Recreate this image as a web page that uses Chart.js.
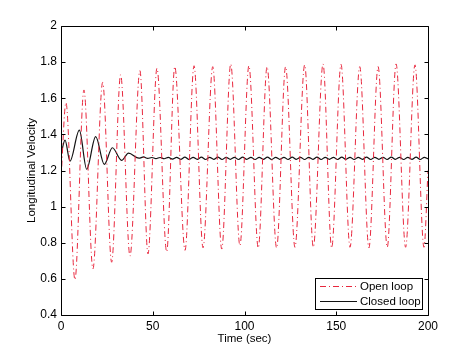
<!DOCTYPE html>
<html>
<head>
<meta charset="utf-8">
<script src="https://cdn.jsdelivr.net/npm/chart.js@4"></script>
<style>
html,body{margin:0;padding:0;background:#fff;}
canvas{display:block;}
</style>
</head>
<body>
<canvas id="c" width="474" height="355"></canvas>
<script>
// ---- data ----
const xTitle = 'Time (sec)';
const yTitle = 'Longitudinal Velocity';
const xTicks = [0, 50, 100, 150, 200];
const xTickLabels = ['0', '50', '100', '150', '200'];
const yTicks = [0.4, 0.6, 0.8, 1.0, 1.2, 1.4, 1.6, 1.8, 2.0];
const yTickLabels = ['0.4', '0.6', '0.8', '1', '1.2', '1.4', '1.6', '1.8', '2'];
const seriesNames = ['Open loop', 'Closed loop'];

// Open loop: extrema (peaks / troughs)
const openT = [0, 2.7, 7.6, 12.5, 17.4, 22.7, 27.6, 32.5, 37.6, 43, 47.4, 52.3, 57.6, 62, 67.6, 72.5, 77.4, 82.7, 87.6, 92.5, 97.5,
  102.4, 107.5, 112.3, 117.5, 122.4, 127.5, 132.8, 137.5, 142.8, 147.5, 152.6, 157.5, 162.8, 167.8, 172.8, 177.8, 182.6, 187.8, 192.9, 197.8, 200];
const openV = [1.15, 1.576, 0.595, 1.646, 0.655, 1.688, 0.692, 1.73, 0.726, 1.753, 0.738, 1.766, 0.75, 1.775, 0.758, 1.78, 0.772, 1.775, 0.765, 1.79, 0.784,
  1.78, 0.771, 1.775, 0.771, 1.775, 0.775, 1.785, 0.775, 1.79, 0.771, 1.788, 0.775, 1.775, 0.771, 1.775, 0.775, 1.79, 0.775, 1.785, 0.775, 1.2];

// Closed loop: extrema
const closedT = [0, 2.2, 4.9, 10, 14, 18.9, 23.6, 28, 33, 36.8, 42.5,
  45, 47.25, 49.5, 51.75, 54, 56.25, 58.5, 60.75, 63, 65.25, 67.5, 69.75, 72, 74.25, 76.5, 78.75, 81, 83.25, 85.5, 87.75,
  90, 92.25, 94.5, 96.75, 99, 101.25, 103.5, 105.75, 108, 110.25, 112.5, 114.75, 117, 119.25, 121.5, 123.75, 126, 128.25,
  130.5, 132.75, 135, 137.25, 139.5, 141.75, 144, 146.25, 148.5, 150.75, 153, 155.25, 157.5, 159.75, 162, 164.25, 166.5,
  168.75, 171, 173.25, 175.5, 177.75, 180, 182.25, 184.5, 186.75, 189, 191.25, 193.5, 195.75, 198, 200];
const closedV = [1.29, 1.368, 1.252, 1.423, 1.207, 1.387, 1.234, 1.326, 1.256, 1.296, 1.268,
  1.275, 1.267, 1.272, 1.266, 1.272, 1.265, 1.273, 1.263, 1.273, 1.262, 1.274, 1.261, 1.273, 1.262, 1.274, 1.261, 1.273, 1.262, 1.274, 1.261,
  1.273, 1.262, 1.273, 1.261, 1.274, 1.262, 1.273, 1.261, 1.273, 1.262, 1.274, 1.261, 1.273, 1.262, 1.273, 1.261, 1.274, 1.262,
  1.273, 1.261, 1.273, 1.262, 1.274, 1.261, 1.273, 1.262, 1.273, 1.261, 1.274, 1.262, 1.273, 1.261, 1.273, 1.262, 1.274,
  1.261, 1.273, 1.262, 1.273, 1.261, 1.274, 1.262, 1.273, 1.261, 1.273, 1.262, 1.274, 1.261, 1.273, 1.265];

// ---- styles ----
const FONT = 'Liberation Sans, Arial, Helvetica, sans-serif';
const RED = 'rgb(232,40,62)';
const RED_DASH = [6, 3, 1, 3];
const BLACK = '#111';

const toPts = (t, v) => t.map((x, i) => ({x: x, y: v[i]}));

const framePlugin = {
  id: 'frameTicks',
  afterDatasetsDraw(chart) {
    const {ctx, chartArea: a, scales} = chart;
    const xs = scales.x, ys = scales.y;
    ctx.save();
    ctx.strokeStyle = '#000';
    ctx.lineWidth = 1;
    const L = Math.round(a.left) + 0.5, R = Math.round(a.right) + 0.5;
    const T = Math.round(a.top) + 0.5, B = Math.round(a.bottom) + 0.5;
    ctx.beginPath();
    ctx.rect(L, T, R - L, B - T);
    const tl = 4;
    xTicks.forEach(v => {
      const p = Math.round(xs.getPixelForValue(v)) + 0.5;
      ctx.moveTo(p, B); ctx.lineTo(p, B - tl);
      ctx.moveTo(p, T); ctx.lineTo(p, T + tl);
    });
    yTicks.forEach(v => {
      const p = Math.round(ys.getPixelForValue(v)) + 0.5;
      ctx.moveTo(L, p); ctx.lineTo(L + tl, p);
      ctx.moveTo(R, p); ctx.lineTo(R - tl, p);
    });
    ctx.stroke();
    ctx.restore();
  },
  afterDraw(chart) {
    const {ctx} = chart;
    // legend box in lower right of the plot area
    const bx = 315.5, by = 278.5, bw = 107, bh = 31;
    ctx.save();
    ctx.fillStyle = '#fff';
    ctx.fillRect(bx, by, bw, bh);
    ctx.strokeStyle = '#000';
    ctx.lineWidth = 1;
    ctx.strokeRect(bx, by, bw, bh);
    const rows = [
      {name: seriesNames[0], color: RED, dash: RED_DASH, w: 1, y: 286.5},
      {name: seriesNames[1], color: BLACK, dash: [], w: 1, y: 301.5}
    ];
    rows.forEach(r => {
      ctx.beginPath();
      ctx.setLineDash(r.dash);
      ctx.strokeStyle = r.color;
      ctx.lineWidth = r.w;
      ctx.moveTo(320, r.y); ctx.lineTo(357, r.y);
      ctx.stroke();
      ctx.setLineDash([]);
      ctx.fillStyle = '#000';
      ctx.font = '11.5px ' + FONT;
      ctx.textBaseline = 'middle';
      ctx.textAlign = 'left';
      ctx.fillText(r.name, 360, r.y + 0.5);
    });
    ctx.restore();
  }
};

new Chart(document.getElementById('c'), {
  type: 'line',
  data: {
    datasets: [
      {
        label: seriesNames[0],
        data: toPts(openT, openV),
        borderColor: RED,
        borderWidth: 1,
        borderDash: RED_DASH,
        pointRadius: 0,
        cubicInterpolationMode: 'monotone',
        fill: false
      },
      {
        label: seriesNames[1],
        data: toPts(closedT, closedV),
        borderColor: BLACK,
        borderWidth: 1.2,
        pointRadius: 0,
        cubicInterpolationMode: 'monotone',
        fill: false
      }
    ]
  },
  options: {
    responsive: false,
    animation: false,
    devicePixelRatio: 1,
    layout: {padding: {left: 0, right: 46, top: 26, bottom: 0}},
    plugins: {legend: {display: false}, tooltip: {enabled: false}},
    scales: {
      x: {
        type: 'linear',
        min: 0, max: 200,
        afterBuildTicks: s => { s.ticks = xTicks.map(v => ({value: v})); },
        afterFit: s => { s.height = 40; },
        grid: {display: false, drawTicks: false},
        border: {display: false},
        ticks: {
          padding: 4,
          color: '#000',
          font: {family: FONT, size: 12},
          maxRotation: 0,
          callback: (v, i) => xTickLabels[i]
        },
        title: {display: true, text: xTitle, color: '#000', font: {family: FONT, size: 11.5}, padding: {top: 0, bottom: 9}}
      },
      y: {
        type: 'linear',
        min: 0.4, max: 2,
        afterBuildTicks: s => { s.ticks = yTicks.map(v => ({value: v})); },
        afterFit: s => { s.width = 61; },
        grid: {display: false, drawTicks: false},
        border: {display: false},
        ticks: {
          padding: 4,
          color: '#000',
          font: {family: FONT, size: 12},
          callback: (v, i) => yTickLabels[i]
        },
        title: {display: true, text: yTitle, color: '#000', font: {family: FONT, size: 11.5}, padding: {top: 25, bottom: 0}}
      }
    }
  },
  plugins: [framePlugin]
});
</script>
</body>
</html>
